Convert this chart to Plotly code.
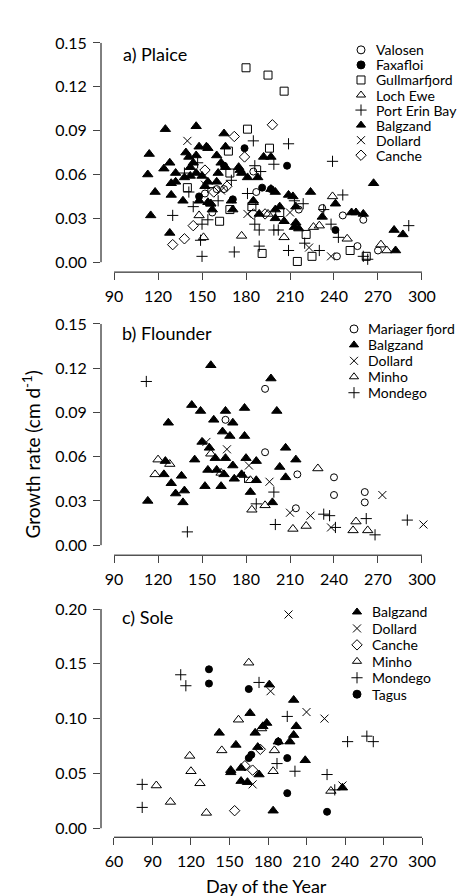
import plotly.graph_objects as go

# ---------------- data ----------------
# Panel a) Plaice
a_valosen_x = [152,157,160,165,185,187,216,232,242,246,256,260,270]
a_valosen_y = [.047,.034,.05,.05,.062,.048,.036,.037,.004,.032,.011,.029,.008]
a_faxa_x = [148,165,171,179,191,197,208,241]
a_faxa_y = [.045,.066,.043,.078,.051,.05,.066,.022]
a_gull_x = [180,195,206,181,196,168,162,191,215,225,251,221,184,169,203,140,169,262]
a_gull_y = [.133,.128,.117,.091,.078,.076,.028,.006,.0005,.004,.008,.019,.038,.036,.034,.051,.061,.004]
a_loch_x = [177,151,148,206,226,230,239,249,272,276,156,185,195]
a_loch_y = [.018,.017,.032,.017,.024,.025,.045,.016,.012,.008,.04,.041,.033]
a_port_x = [185,209,239,246,199,190,186,181,130,144,141,150,149,150,172,189,209,220,230,238,243,260,263,291,
            219,213,199,189,186,161,154,147,138,170,202,154,233]
a_port_y = [.083,.081,.069,.046,.067,.062,.066,.047,.032,.038,.048,.026,.015,.004,.007,.011,.008,.013,.008,.026,.017,.004,.002,.025,
            .04,.042,.022,.022,.026,.042,.051,.068,.061,.056,.022,.029,.036]
a_balg_x = [114,113,115,118,125,146,165,124,128,129,128,132,132,137,129,139,141,142,144,148,153,154,146,138,142,146,150,148,
            154,154,156,160,163,166,161,160,171,170,175,176,177,181,188,192,197,185,189,197,200,203,200,209,212,200,206,214,213,
            216,214,224,232,241,252,255,260,267,281,282,287,166,152,157]
a_balg_y = [.074,.06,.032,.048,.091,.093,.088,.064,.068,.054,.02,.061,.055,.042,.046,.075,.072,.065,.068,.079,.079,.078,.073,.058,
            .059,.061,.059,.042,.055,.041,.04,.073,.068,.065,.061,.055,.036,.042,.065,.063,.061,.058,.058,.072,.072,.042,.033,.05,
            .048,.038,.036,.046,.045,.03,.028,.027,.024,.023,.038,.048,.031,.04,.034,.034,.033,.054,.022,.008,.019,.079,.052,.036]
a_doll_x = [140,152,163,181,210,223,238]
a_doll_y = [.083,.053,.049,.033,.034,.01,.004]
a_canc_x = [198,172,179,152,167,144,138,130,185,193,158]
a_canc_y = [.094,.086,.072,.063,.052,.025,.016,.012,.033,.033,.048]

# Panel b) Flounder
b_mari_x = [193,166,193,215,240,240,214,261,261]
b_mari_y = [.106,.085,.063,.048,.046,.034,.025,.036,.029]
b_balg_x = [156,197,143,149,127,166,179,201,158,171,164,169,179,207,150,155,145,159,166,180,187,214,171,203,154,160,165,
            172,177,187,207,125,124,129,136,132,138,137,152,163,183,198,113]
b_balg_y = [.122,.113,.095,.091,.083,.091,.093,.091,.085,.083,.077,.074,.074,.066,.07,.066,.058,.059,.059,.059,.057,.058,
            .054,.053,.051,.051,.048,.045,.048,.044,.046,.057,.048,.042,.047,.035,.037,.029,.04,.04,.036,.029,.03]
b_doll_x = [153,167,182,196,210,224,238,273,301]
b_doll_y = [.07,.065,.054,.043,.022,.02,.012,.034,.014]
b_minho_x = [120,118,128,156,163,183,184,193,229,212,221,253,255,263]
b_minho_y = [.058,.048,.055,.062,.049,.044,.024,.027,.052,.011,.013,.01,.016,.01]
b_mond_x = [112,140,179,187,199,200,233,237,241,262,268,290]
b_mond_y = [.111,.009,.046,.028,.036,.014,.021,.02,.012,.018,.007,.017]

# Panel c) Sole
c_balg_x = [181,200,166,142,155,170,176,179,172,202,200,197,209,151,151,159,173,159,164,184,238,188]
c_balg_y = [.131,.117,.105,.087,.076,.087,.093,.096,.074,.093,.085,.079,.062,.053,.051,.055,.049,.043,.042,.016,.037,.079]
c_doll_x = [196,182,210,224,168,238]
c_doll_y = [.195,.125,.106,.1,.04,.039]
c_canc_x = [174,168,162,154]
c_canc_y = [.072,.053,.057,.016]
c_minho_x = [165,157,144,119,120,127,93,104,132,185,184,229,175]
c_minho_y = [.151,.099,.071,.066,.052,.041,.039,.024,.014,.071,.052,.034,.091]
c_mond_x = [112,116,173,195,187,201,226,242,257,262,82,82,232]
c_mond_y = [.14,.13,.133,.102,.059,.052,.049,.079,.084,.079,.04,.019,.035]
c_tagus_x = [134,134,165,165,167,188,195,195,226]
c_tagus_y = [.145,.132,.127,.064,.067,.079,.064,.032,.015]

SYM = {"Valosen": "circle-open", "Mariager fjord": "circle-open", "Faxafloi": "circle", "Tagus": "circle",
       "Gullmarfjord": "square-open", "Loch Ewe": "triangle-up-open", "Minho": "triangle-up-open",
       "Port Erin Bay": "cross-thin-open", "Mondego": "cross-thin-open", "Balgzand": "triangle-up",
       "Dollard": "x-thin-open", "Canche": "diamond-open"}

panels = [
    ("a) Plaice", [("Valosen", a_valosen_x, a_valosen_y), ("Faxafloi", a_faxa_x, a_faxa_y),
                   ("Gullmarfjord", a_gull_x, a_gull_y), ("Loch Ewe", a_loch_x, a_loch_y),
                   ("Port Erin Bay", a_port_x, a_port_y), ("Balgzand", a_balg_x, a_balg_y),
                   ("Dollard", a_doll_x, a_doll_y), ("Canche", a_canc_x, a_canc_y)]),
    ("b) Flounder", [("Mariager fjord", b_mari_x, b_mari_y), ("Balgzand", b_balg_x, b_balg_y),
                     ("Dollard", b_doll_x, b_doll_y), ("Minho", b_minho_x, b_minho_y),
                     ("Mondego", b_mond_x, b_mond_y)]),
    ("c) Sole", [("Balgzand", c_balg_x, c_balg_y), ("Dollard", c_doll_x, c_doll_y),
                 ("Canche", c_canc_x, c_canc_y), ("Minho", c_minho_x, c_minho_y),
                 ("Mondego", c_mond_x, c_mond_y), ("Tagus", c_tagus_x, c_tagus_y)]),
]

W, H = 474, 896
FONT = "Lato"
geo = [
    dict(top=25, bot=262, xr=[81.1, 331.4], yr=[-0.0068, 0.1548], xt=list(range(90, 301, 30)),
         yt=[0, .03, .06, .09, .12, .15], yend=0.15, xs=90, lab=(113, 43), leg=(353, 366, 39, 15.1)),
    dict(top=305, bot=546, xr=[81.1, 331.4], yr=[-0.0068, 0.1561], xt=list(range(90, 301, 30)),
         yt=[0, .03, .06, .09, .12, .15], yend=0.15, xs=90, lab=(112, 323), leg=(346, 358, 319, 16)),
    dict(top=590, bot=829, xr=[49.9, 335.8], yr=[-0.0082, 0.2091], xt=list(range(60, 301, 30)),
         yt=[0, .05, .10, .15, .20], yend=0.20, xs=60, lab=(112, 608), leg=(349, 362, 603, 16.5)),
]

fig = go.Figure()
shapes, annotations = [], []
leg_x, leg_y, leg_s = [], [], []
for i, ((title, series), g) in enumerate(zip(panels, geo)):
    k = "" if i == 0 else str(i + 1)
    for j, (name, xs, ys) in enumerate(series):
        sym = SYM[name]
        size = 9 if "triangle" in sym else (7 if sym in ("circle", "circle-open") else 8)
        fig.add_trace(go.Scatter(x=xs, y=ys, mode="markers", xaxis="x" + k, yaxis="y" + k, showlegend=False,
                                 marker=dict(symbol=sym, size=size, color="black",
                                             line=dict(color="black", width=1))))
        sx, tx, r0, st = g["leg"]
        leg_x.append(sx); leg_y.append(r0 + st * j); leg_s.append(sym)
        annotations.append(dict(x=tx, y=r0 + st * j, xref="x4", yref="y4", text=name, showarrow=False,
                                xanchor="left", yanchor="middle", font=dict(family=FONT, size=14, color="black")))
    dom_y = [1 - g["bot"] / H, 1 - g["top"] / H]
    ax = dict(domain=[93 / W, 460 / W], range=g["xr"], tickvals=g["xt"], ticks="outside", ticklen=7,
              showgrid=False, zeroline=False, showline=False, tickfont=dict(family=FONT, size=16, color="black"),
              anchor="y" + k, ticklabelstandoff=3)
    ay = dict(domain=dom_y, range=g["yr"], tickvals=g["yt"], ticktext=[f"{v:.2f}" for v in g["yt"]],
              ticks="outside", ticklen=7, showgrid=False, zeroline=False, showline=False,
              tickfont=dict(family=FONT, size=16, color="black"), anchor="x" + k, ticklabelstandoff=3)
    fig.update_layout(**{"xaxis" + k: ax, "yaxis" + k: ay})
    shapes.append(dict(type="line", xref="x" + k, yref=f"y{k} domain", x0=g["xs"], x1=300, y0=0, y1=0,
                       line=dict(color="black", width=1)))
    shapes.append(dict(type="line", xref=f"x{k} domain", yref="y" + k, x0=0, x1=0, y0=0, y1=g["yend"],
                       line=dict(color="black", width=1)))
    annotations.append(dict(x=g["lab"][0], y=g["lab"][1], xref="x4", yref="y4", text=title, showarrow=False,
                            xanchor="left", yanchor="middle", font=dict(family=FONT, size=18, color="black")))

fig.add_trace(go.Scatter(x=leg_x, y=leg_y, mode="markers", xaxis="x4", yaxis="y4", showlegend=False,
                         hoverinfo="skip",
                         marker=dict(symbol=leg_s, size=8, color="black", line=dict(color="black", width=1))))
fig.update_layout(
    xaxis4=dict(domain=[0, 1], range=[0, W], visible=False, anchor="y4"),
    yaxis4=dict(domain=[0, 1], range=[H, 0], visible=False, anchor="x4"),
)
annotations.append(dict(x=24, y=445, xref="x4", yref="y4", text="Growth rate (cm d<sup>-1</sup>)", textangle=-90,
                        showarrow=False, font=dict(family=FONT, size=19, color="black")))
annotations.append(dict(x=258, y=878, xref="x4", yref="y4", text="Day of the Year", showarrow=False,
                        yanchor="middle", font=dict(family=FONT, size=18, color="black")))

fig.update_layout(width=W, height=H, margin=dict(l=0, r=0, t=0, b=0), plot_bgcolor="rgba(0,0,0,0)",
                  paper_bgcolor="white", shapes=shapes, annotations=annotations, showlegend=False)
fig.write_html("out.html")
